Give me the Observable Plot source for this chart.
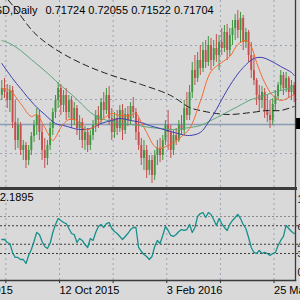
<!DOCTYPE html>
<html><head><meta charset="utf-8">
<script src="https://cdn.jsdelivr.net/npm/d3@7"></script>
<script src="https://cdn.jsdelivr.net/npm/@observablehq/plot@0.6"></script>
<style>
html,body{margin:0;padding:0;background:#d9d9d9;}
#wrap{position:relative;width:300px;height:300px;overflow:hidden;background:#d9d9d9;}
#wrap svg{position:absolute;left:0;display:block;overflow:visible;}
</style></head><body><div id="wrap"></div>
<script>
// ---- price data (daily bars) ----
const opens = [0.7315,0.7350,0.7330,0.7290,0.7340,0.7180,0.7090,0.7165,0.7040,0.7065,
0.6990,0.7040,0.7110,0.7165,0.7215,0.7130,0.7040,0.7000,0.7065,0.7150,
0.7230,0.7290,0.7350,0.7265,0.7315,0.7230,0.7290,0.7190,0.7250,0.7150,
0.7180,0.7090,0.7130,0.7065,0.7115,0.7165,0.7215,0.7190,0.7280,0.7240,
0.7315,0.7200,0.7130,0.7200,0.7150,0.7240,0.7140,0.7220,0.7190,0.7260,
0.7230,0.7130,0.7065,0.7000,0.7040,0.6940,0.6990,0.6915,0.7015,0.7050,
0.7015,0.7090,0.7165,0.7130,0.7040,0.7115,0.7090,0.7165,0.7140,0.7250,
0.7215,0.7330,0.7440,0.7400,0.7490,0.7450,0.7540,0.7480,0.7565,0.7490,
0.7550,0.7515,0.7580,0.7550,0.7630,0.7540,0.7615,0.7650,0.7690,0.7640,
0.7700,0.7580,0.7630,0.7515,0.7440,0.7390,0.7315,0.7290,0.7330,0.7240,
0.7215,0.7190,0.7270,0.7310,0.7365,0.7415,0.7350,0.7400,0.7330,0.7365];
const highs = [0.7390,0.7400,0.7370,0.7365,0.7360,0.7290,0.7200,0.7180,0.7090,0.7080,
0.7065,0.7130,0.7190,0.7250,0.7240,0.7165,0.7100,0.7090,0.7180,0.7250,
0.7315,0.7380,0.7370,0.7340,0.7350,0.7315,0.7310,0.7280,0.7265,0.7215,
0.7200,0.7160,0.7150,0.7140,0.7190,0.7240,0.7260,0.7300,0.7330,0.7350,
0.7360,0.7250,0.7230,0.7240,0.7265,0.7270,0.7250,0.7260,0.7280,0.7305,
0.7250,0.7200,0.7100,0.7090,0.7065,0.7015,0.7015,0.7040,0.7090,0.7100,
0.7115,0.7190,0.7240,0.7165,0.7140,0.7150,0.7190,0.7215,0.7290,0.7330,
0.7365,0.7480,0.7515,0.7530,0.7565,0.7580,0.7590,0.7610,0.7600,0.7590,
0.7620,0.7615,0.7650,0.7665,0.7670,0.7650,0.7690,0.7720,0.7740,0.7730,
0.7715,0.7650,0.7640,0.7580,0.7515,0.7400,0.7365,0.7360,0.7350,0.7315,
0.7290,0.7300,0.7340,0.7380,0.7440,0.7430,0.7430,0.7410,0.7390,0.7380];
const lows = [0.7290,0.7300,0.7250,0.7230,0.7150,0.7040,0.7050,0.7015,0.6990,0.6950,
0.6965,0.7015,0.7080,0.7115,0.7090,0.6990,0.6950,0.6965,0.7040,0.7115,
0.7200,0.7250,0.7215,0.7230,0.7190,0.7200,0.7150,0.7165,0.7115,0.7090,
0.7050,0.7040,0.7030,0.7040,0.7090,0.7130,0.7150,0.7170,0.7200,0.7220,
0.7165,0.7090,0.7100,0.7115,0.7130,0.7090,0.7120,0.7160,0.7170,0.7200,
0.7090,0.7040,0.6965,0.6940,0.6900,0.6915,0.6875,0.6890,0.6965,0.6980,
0.6990,0.7065,0.7040,0.7000,0.7015,0.7065,0.7080,0.7115,0.7115,0.7190,
0.7190,0.7300,0.7365,0.7380,0.7415,0.7430,0.7450,0.7460,0.7440,0.7460,
0.7480,0.7440,0.7515,0.7530,0.7490,0.7510,0.7565,0.7590,0.7600,0.7580,
0.7540,0.7550,0.7480,0.7400,0.7365,0.7265,0.7230,0.7250,0.7200,0.7180,
0.7150,0.7165,0.7240,0.7290,0.7340,0.7315,0.7330,0.7300,0.7290,0.7280];
const closes = [0.7350,0.7330,0.7290,0.7340,0.7180,0.7090,0.7165,0.7040,0.7065,0.6990,
0.7040,0.7110,0.7165,0.7215,0.7130,0.7040,0.7000,0.7065,0.7150,0.7230,
0.7290,0.7350,0.7265,0.7315,0.7230,0.7290,0.7190,0.7250,0.7150,0.7180,
0.7090,0.7130,0.7065,0.7115,0.7165,0.7215,0.7190,0.7280,0.7240,0.7315,
0.7200,0.7130,0.7200,0.7150,0.7240,0.7140,0.7220,0.7190,0.7260,0.7230,
0.7130,0.7065,0.7000,0.7040,0.6940,0.6990,0.6915,0.7015,0.7050,0.7015,
0.7090,0.7165,0.7130,0.7040,0.7115,0.7090,0.7165,0.7140,0.7250,0.7215,
0.7330,0.7440,0.7400,0.7490,0.7450,0.7540,0.7480,0.7565,0.7490,0.7550,
0.7515,0.7580,0.7550,0.7630,0.7540,0.7615,0.7650,0.7690,0.7640,0.7700,
0.7580,0.7630,0.7515,0.7440,0.7390,0.7315,0.7290,0.7330,0.7240,0.7215,
0.7190,0.7270,0.7310,0.7365,0.7415,0.7350,0.7400,0.7330,0.7365,0.7315];

// ---- moving averages (bar index, value) ----
const fastIdx = [0,3,7,11,13,15,17,19,20,22,25,28,31,34,38,41,44,48,50,52,54,57,59,62,64,67,70,74,78,82,85,88,91,93,95,98,101,104,107,109];
const fastVal = [0.7350,0.7340,0.7275,0.7210,0.7220,0.7180,0.7130,0.7090,0.7105,0.7155,0.7195,0.7190,0.7145,0.7155,0.7200,0.7225,0.7215,0.7215,0.7225,0.7180,0.7130,0.7060,0.7050,0.7065,0.7080,0.7110,0.7150,0.7285,0.7435,0.7480,0.7510,0.7570,0.7590,0.7560,0.7480,0.7380,0.7315,0.7290,0.7305,0.7320];
const midIdx = [0,4,7,12,16,20,23,29,33,37,41,44,48,52,55,59,63,67,70,74,77,80,82,86,90,94,97,100,104,108,109];
const midVal = [0.7475,0.7400,0.7350,0.7270,0.7220,0.7175,0.7165,0.7145,0.7150,0.7175,0.7190,0.7200,0.7190,0.7180,0.7165,0.7150,0.7135,0.7120,0.7115,0.7130,0.7180,0.7245,0.7295,0.7385,0.7455,0.7500,0.7505,0.7490,0.7460,0.7430,0.7415];
const slowIdx = [0,3,7,11,15,18,22,26,30,33,37,41,45,51,55,60,64,70,74,78,83,88,93,97,101,107,109];
const slowVal = [0.7590,0.7575,0.7540,0.7495,0.7450,0.7415,0.7365,0.7320,0.7270,0.7230,0.7200,0.7185,0.7175,0.7165,0.7155,0.7150,0.7145,0.7155,0.7165,0.7190,0.7225,0.7260,0.7295,0.7310,0.7330,0.7350,0.7365];
const longIdx = [0,5,12,19,29,40,52,63,70,74,80,85,93,99,104,109];
const longVal = [0.7830,0.7750,0.7630,0.7555,0.7480,0.7420,0.7370,0.7315,0.7255,0.7240,0.7225,0.7220,0.7230,0.7240,0.7240,0.7260];

// ---- oscillator ----
const rsi = [45.1,45.1,41.9,40.8,31.1,25.7,25.7,23.5,23.5,19.2,
27.8,34.3,43.0,52.7,50.5,43.0,37.6,35.4,40.8,52.7,
61.4,67.8,65.7,63.5,62.4,57.0,51.6,50.5,41.9,46.2,
44.1,39.7,36.5,46.2,44.1,52.7,59.2,61.4,58.1,62.4,
63.5,57.0,53.8,51.6,48.4,45.1,48.4,51.6,55.9,58.1,
58.1,36.5,32.2,28.9,26.8,23.5,26.8,37.6,44.1,40.8,
49.5,59.2,54.9,49.5,48.4,50.5,53.8,55.9,54.9,55.9,
61.4,52.7,58.1,70.0,73.2,74.3,68.9,74.3,72.2,66.8,
60.3,67.8,62.4,58.1,54.9,61.4,65.7,68.9,72.2,67.8,
61.4,57.0,47.3,36.5,31.1,30.0,33.2,30.0,31.1,30.0,
27.8,30.0,31.1,38.6,44.1,48.4,60.3,57.0,53.8,51.6];
const rsiLevels = [60, 40, 30];
const rsiGridLevel = [70];

// ---- axes / labels ----
const gridIdx = [2, 22, 42, 62, 82, 102];
const priceGrid = [0.7565, 0.7295, 0.7025];
const bidPrice = [0.7170];
const dateIdx = [-18, 22, 62, 102];
const dateLabels = ["22 Jun 2015", "12 Oct 2015", "3 Feb 2016", "25 May 2016"];
const symbolTitle = "AUDUSD,Daily";
const ohlcTitle = "0.71724 0.72055 0.71522 0.71704";
const rsiTitle = "RSI(14) 62.1895";

const bars = opens.map((o, i) => ({i, o, h: highs[i], l: lows[i], c: closes[i]}));
const toPts = (idx, val) => idx.map((i, k) => ({i, v: val[k]}));
const fast = toPts(fastIdx, fastVal), mid = toPts(midIdx, midVal),
      slow = toPts(slowIdx, slowVal), long = toPts(longIdx, longVal);

const FONT = "'Liberation Sans', Arial, sans-serif";
const UP = "#3f973f", DOWN = "#c54d4d";
const GRID = "#98a4b4";
const colr = d => d.c >= d.o ? UP : DOWN;

const main = Plot.plot({
  width: 300, height: 188,
  marginTop: 0, marginBottom: 0, marginLeft: 0, marginRight: 5,
  style: {background: "transparent", fontFamily: FONT, fontSize: "11px", color: "#000", overflow: "visible"},
  x: {domain: [0, 110], axis: null},
  y: {domain: [0.685, 0.779], axis: null},
  marks: [
    Plot.ruleX(gridIdx, {x: d => d, stroke: GRID, strokeWidth: 1, strokeDasharray: "2,3"}),
    Plot.ruleY(priceGrid, {y: d => d, x1: 0, x2: 111.2, stroke: GRID, strokeWidth: 1, strokeDasharray: "2,3"}),
    Plot.ruleY(bidPrice, {y: d => d, x1: 0, x2: 110, stroke: "#8a9db3", strokeWidth: 1.5}),
    Plot.ruleX(bars, {x: d => d.i + 0.5, y1: "l", y2: "h", stroke: colr, strokeWidth: 1}),
    Plot.ruleX(bars, {x: d => d.i + 0.5, y1: "o", y2: "c", stroke: colr, strokeWidth: 1.9}),
    Plot.line(long, {x: d => d.i + 0.5, y: "v", stroke: "#1e1e1e", strokeWidth: 1, strokeDasharray: "6,4", curve: "catmull-rom", clip: true}),
    Plot.line(slow, {x: d => d.i + 0.5, y: "v", stroke: "#5aa77a", strokeWidth: 1, curve: "catmull-rom", clip: true}),
    Plot.line(mid, {x: d => d.i + 0.5, y: "v", stroke: "#3f3fae", strokeWidth: 1, curve: "catmull-rom", clip: true}),
    Plot.line(fast, {x: d => d.i + 0.5, y: "v", stroke: "#f5692c", strokeWidth: 1, curve: "catmull-rom", clip: true}),
    Plot.rect(bidPrice, {x1: 110.35, x2: 113, y1: d => d + 0.003, y2: d => d - 0.0025, fill: "#000"}),
    Plot.frame({anchor: "right", stroke: "#3a3a3a", strokeWidth: 1.3}),
    Plot.frame({anchor: "bottom", stroke: "#3c3c3c", strokeWidth: 3}),
    Plot.text([symbolTitle], {text: d => d, frameAnchor: "top-left", dx: 37, dy: 10, textAnchor: "end", lineAnchor: "middle", fill: "#000", fontSize: 11}),
    Plot.text([ohlcTitle], {text: d => d, frameAnchor: "top-left", dx: 45, dy: 10, textAnchor: "start", lineAnchor: "middle", fill: "#000", fontSize: 11})
  ]
});

const dates = dateIdx.map((i, k) => ({i, label: dateLabels[k]}));
const osc = Plot.plot({
  width: 300, height: 112,
  marginTop: 0, marginBottom: 20, marginLeft: 0, marginRight: 5,
  style: {background: "transparent", fontFamily: FONT, fontSize: "11px", color: "#000", overflow: "visible"},
  x: {domain: [0, 110], axis: null},
  y: {domain: [0.8, 100.26], axis: null},
  marks: [
    Plot.ruleX(gridIdx, {x: d => d, stroke: GRID, strokeWidth: 1, strokeDasharray: "2,3"}),
    Plot.ruleY(rsiGridLevel, {y: d => d, x1: 0, x2: 111.2, stroke: "#8c8c8c", strokeWidth: 1.2, strokeDasharray: "2,2"}),
    Plot.ruleY(rsiLevels, {y: d => d, x1: 0, x2: 111.2, stroke: "#3a3a3a", strokeWidth: 1, strokeDasharray: "2,2"}),
    Plot.line(rsi, {x: (d, i) => i + 0.5, y: d => d, stroke: "#16908d", strokeWidth: 1.3}),
    Plot.ruleX(gridIdx, {x: d => d, y1: 0.8, y2: -2.5, stroke: "#333", strokeWidth: 1}),
    Plot.frame({anchor: "bottom", stroke: "#3a3a3a", strokeWidth: 1.5}),
    Plot.frame({anchor: "right", stroke: "#3a3a3a", strokeWidth: 1.3}),
    Plot.text(dates, {x: "i", text: "label", frameAnchor: "bottom", dy: 10, textAnchor: "start", lineAnchor: "middle", fill: "#000", fontSize: 11}),
    Plot.text([100], {x: 110.7, y: d => d, text: d => String(d), dy: 11, textAnchor: "start", lineAnchor: "middle", fill: "#000", fontSize: 10}),
    Plot.text(rsiLevels, {x: 110.7, y: d => d, text: d => String(d), dy: 1, textAnchor: "start", lineAnchor: "middle", fill: "#000", fontSize: 9}),
    Plot.text([0], {x: 110.7, y: d => d, text: d => String(d), dy: -8, textAnchor: "start", lineAnchor: "middle", fill: "#000", fontSize: 10}),
    Plot.text([rsiTitle], {text: d => d, frameAnchor: "top-left", dx: 33, dy: 9, textAnchor: "end", lineAnchor: "middle", fill: "#000", fontSize: 11})
  ]
});

const wrap = document.getElementById("wrap");
main.style.top = "0px";
osc.style.top = "188px";
wrap.appendChild(osc);
wrap.appendChild(main);
</script>
</body></html>
